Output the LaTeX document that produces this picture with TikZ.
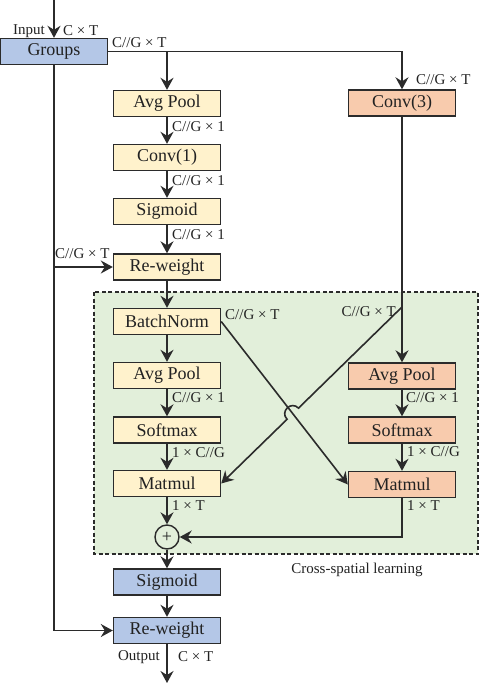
\documentclass[tikz,border=0pt]{standalone}
\usepackage{fontspec}
\setmainfont{Liberation Serif}
\usetikzlibrary{arrows.meta,calc}
\definecolor{yel}{HTML}{FFF2CC}
\definecolor{ora}{HTML}{F8CBAD}
\definecolor{blu}{HTML}{B4C7E7}
\definecolor{grn}{HTML}{E2EFDA}
\definecolor{edge}{HTML}{2B2B2B}
\definecolor{txt}{HTML}{222222}
\begin{document}
\begin{tikzpicture}[x=1pt,y=-1pt,
  box/.style={draw=edge,line width=1.4pt,minimum width=107pt,minimum height=26pt,inner sep=0pt,font=\fontsize{18}{21}\selectfont,text=txt},
  ybox/.style={box,fill=yel},
  obox/.style={box,fill=ora},
  bbox/.style={box,fill=blu},
  plusnode/.style={circle,draw=edge,line width=1.4pt,minimum size=24pt,inner sep=0pt,font=\fontsize{18}{21}\selectfont,text=txt},
  lab/.style={font=\fontsize{15}{18}\selectfont,inner sep=0pt,text=txt},
  arr/.style={draw=edge,line width=1.6pt,-{Stealth[length=12pt,width=13pt,inset=4pt]}},
  region/.style={fill=grn,draw=edge,line width=1.2pt,dash pattern=on 4pt off 2.5pt}]
\useasboundingbox (0,0) rectangle (484,685);
\path[region] (94,292) rectangle (478,554);

% left column
\node[bbox] (groups) at (54,51.5) {Groups};
\node[ybox] (ap1) at (167,103.5) {Avg Pool};
\node[ybox] (cv1) at (167,157.5) {Conv(1)};
\node[ybox] (sg1) at (167,211.5) {Sigmoid};
\node[ybox] (rw1) at (167,267) {Re-weight};
\node[ybox] (bn) at (167,321.5) {BatchNorm};
\node[ybox] (ap2) at (167,375.5) {Avg Pool};
\node[ybox] (sm1) at (167,430) {Softmax};
\node[ybox] (mm1) at (167,483.5) {Matmul};
\node[plusnode] (pl) at (167,537) {+};
\node[bbox] (sg2) at (167,582) {Sigmoid};
\node[bbox] (rw2) at (167,630.5) {Re-weight};
% right column
\node[obox] (c3) at (402,103) {Conv(3)};
\node[obox] (ap3) at (402,376) {Avg Pool};
\node[obox] (sm2) at (402,430) {Softmax};
\node[obox] (mm2) at (402,484.5) {Matmul};

\coordinate (inp) at (54,0);
\coordinate (outp) at (167,683);
\coordinate (J) at (402,307);

% connectors
\draw[arr] (inp) -- (groups.north);
\draw[arr] (groups.east) -| (c3.north);
\draw[arr] (ap1.north |- groups.east) -- (ap1.north);
\draw[arr] (ap1) -- (cv1);
\draw[arr] (cv1) -- (sg1);
\draw[arr] (sg1) -- (rw1);
\draw[arr] (rw1) -- (bn);
\draw[arr] (bn) -- (ap2);
\draw[arr] (ap2) -- (sm1);
\draw[arr] (sm1) -- (mm1);
\draw[arr] (mm1) -- (pl);
\draw[arr] (pl) -- (sg2);
\draw[arr] (sg2) -- (rw2);
\draw[arr] (rw2) -- (outp);
\draw[arr] (groups.south) |- (rw2.west);
\draw[arr] (groups.south |- rw1.west) -- (rw1.west);
\draw[arr] (c3) -- (ap3);
\draw[arr] (ap3) -- (sm2);
\draw[arr] (sm2) -- (mm2);
\draw[arr] (mm2.south) |- (pl.east);
\draw[arr] (bn.east) -- (mm2.west);
\coordinate (X) at (intersection of bn.east--mm2.west and J--mm1.east);
\coordinate (h2) at ($(X)!8pt!(J)$);
\coordinate (h1) at ($(X)!8pt!(mm1.east)$);
\draw[arr] (J) -- (h2) .. controls ($(h2)!1.333!-90:(X)$) and ($(h1)!1.333!90:(X)$) .. (h1) -- (mm1.east);

% labels
\node[lab,anchor=east] at (45,31) {Input};
\node[lab,anchor=west] at (63,31) {C × T};
\node[lab,anchor=west] at (112,43) {C//G × T};
\node[lab,anchor=west] at (416,80) {C//G × T};
\node[lab,anchor=west] at (172,127) {C//G × 1};
\node[lab,anchor=west] at (172,181) {C//G × 1};
\node[lab,anchor=west] at (172,235) {C//G × 1};
\node[lab,anchor=west] at (55,254) {C//G × T};
\node[lab,anchor=west] at (225,315) {C//G × T};
\node[lab,anchor=east] at (396,312) {C//G × T};
\node[lab,anchor=west] at (172,398) {C//G × 1};
\node[lab,anchor=west] at (172,453) {1 × C//G};
\node[lab,anchor=west] at (172,506) {1 × T};
\node[lab,anchor=west] at (406,398) {C//G × 1};
\node[lab,anchor=west] at (407,452) {1 × C//G};
\node[lab,anchor=west] at (407,506) {1 × T};
\node[lab] at (357,570) {Cross-spatial learning};
\node[lab,anchor=east] at (160,657) {Output};
\node[lab,anchor=west] at (178,657) {C × T};
\end{tikzpicture}
\end{document}
